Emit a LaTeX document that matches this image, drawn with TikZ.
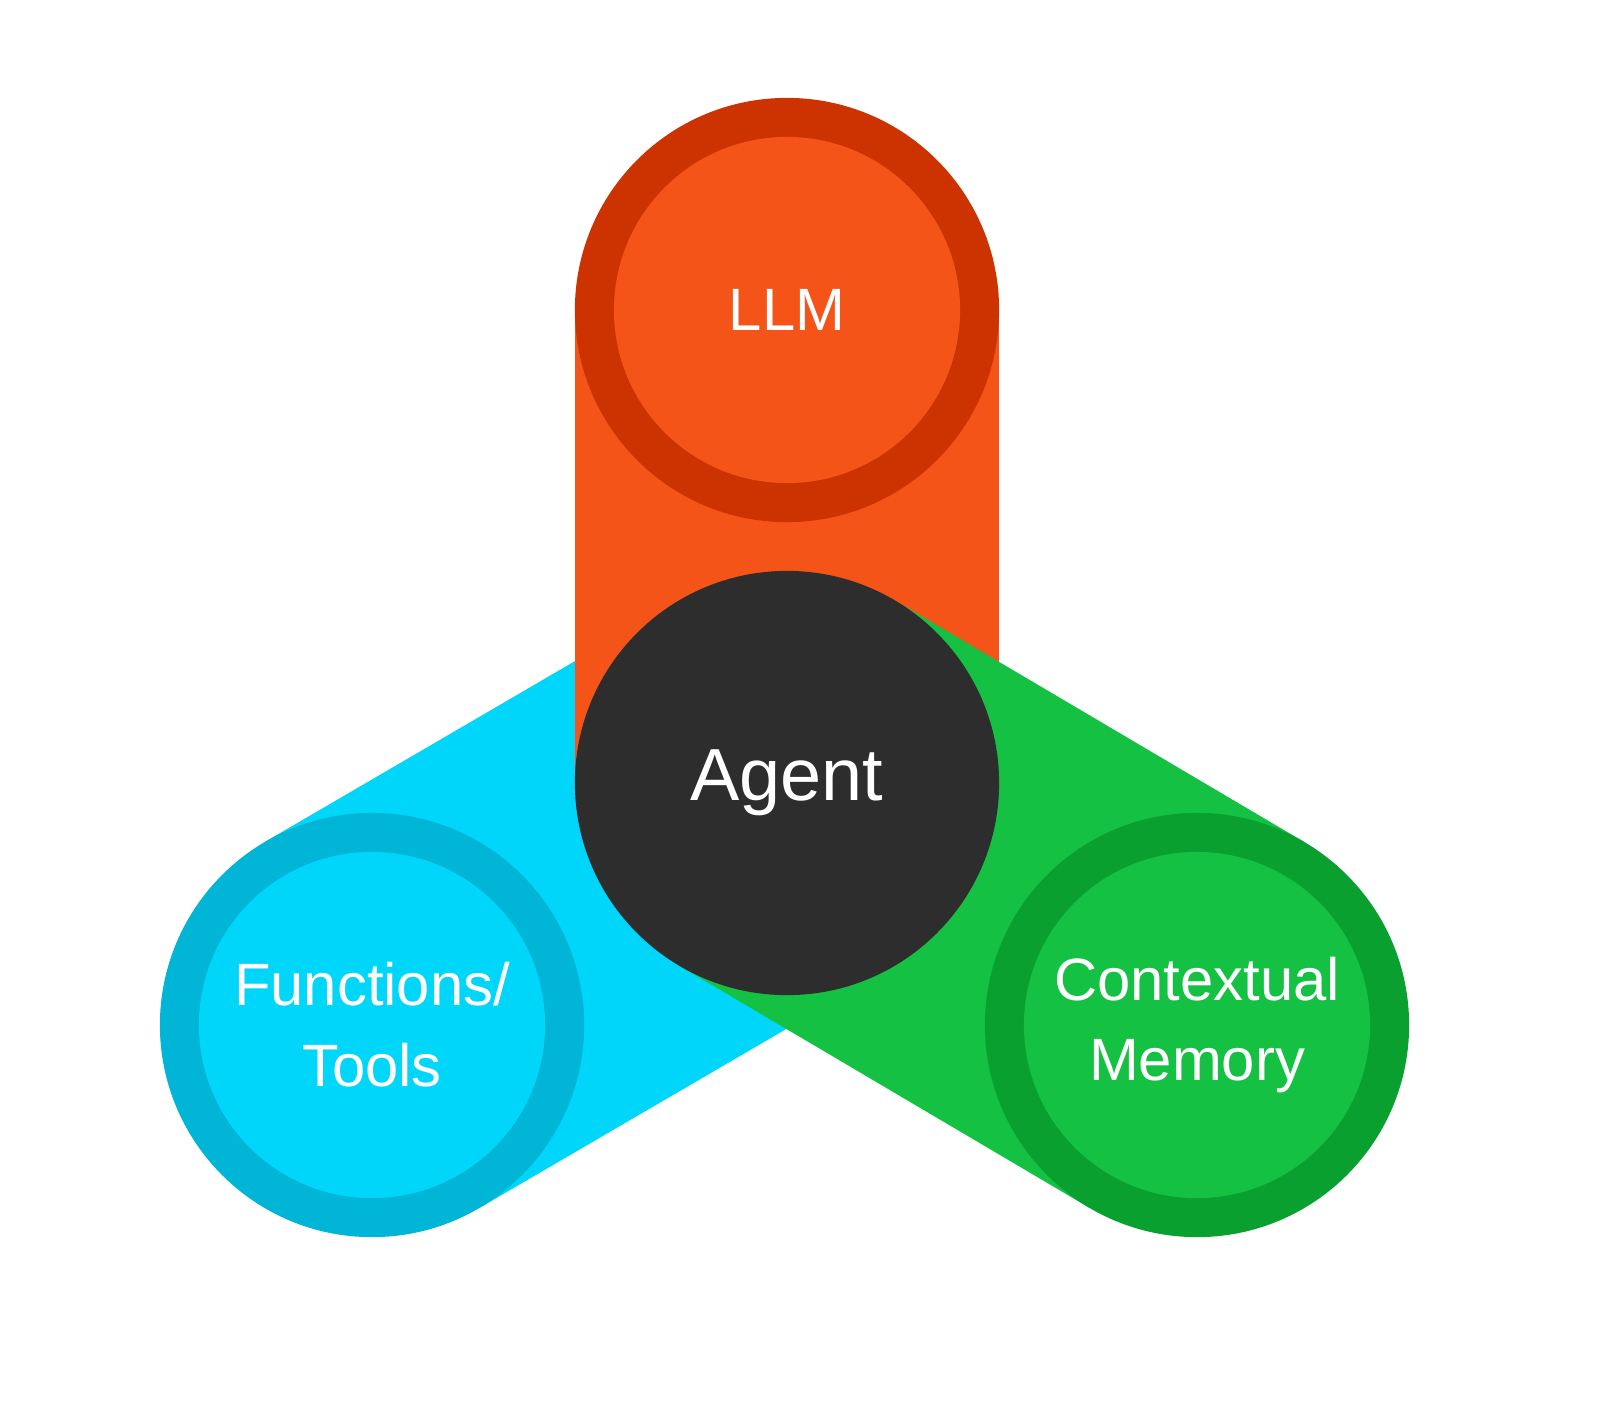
\documentclass[tikz,border=0pt]{standalone}
\usepackage{fontspec}
\setmainfont{Liberation Sans}
\definecolor{oband}{HTML}{F55418}
\definecolor{oring}{HTML}{CC3300}
\definecolor{bband}{HTML}{00D5FA}
\definecolor{bring}{HTML}{00B5D5}
\definecolor{gband}{HTML}{14C143}
\definecolor{gring}{HTML}{0AA030}
\definecolor{agentc}{HTML}{2D2D2D}
\begin{document}
\begin{tikzpicture}[x=0.01cm,y=-0.01cm,
  band/.style={line width=4.24cm,line cap=butt},
  ring/.style={circle,minimum size=4.24cm,inner sep=0pt},
  core/.style={circle,minimum size=3.46cm,inner sep=0pt,text=white,align=center,font=\fontsize{17}{23}\selectfont}]
\useasboundingbox (0,0) rectangle (1600,1405);
\coordinate (cA) at (787,783);
\coordinate (cL) at (787,310);
\coordinate (cF) at (372,1025);
\coordinate (cC) at (1197,1025);
\draw[band,bband] (cA) -- (cF);
\draw[band,oband] (cA) -- (cL);
\draw[band,gband] (cA) -- (cC);
\node[ring,fill=oring] (llmr) at (cL) {};
\node[core,fill=oband] (llm) at (cL) {LLM};
\node[ring,fill=bring] (funr) at (cF) {};
\node[core,fill=bband] (fun) at (cF) {Functions/\\Tools};
\node[ring,fill=gring] (memr) at (cC) {};
\node[core,fill=gband] (mem) at (cC) {Contextual\\Memory};
\node[ring,fill=agentc,text=white,font=\fontsize{21}{25}\selectfont] (agent) at (cA) {Agent};
\end{tikzpicture}
\end{document}
